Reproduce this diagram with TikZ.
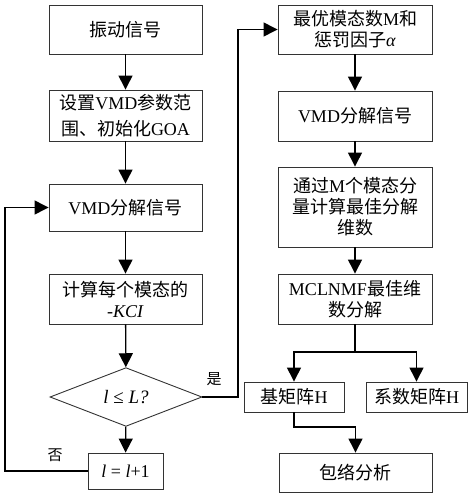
\documentclass[tikz,border=0pt]{standalone}
\usepackage{fontspec}
\setmainfont{Noto Sans CJK SC}
\newfontfamily\lat{Liberation Serif}
\newcommand{\la}[1]{{\lat #1}}
\usepackage{tikz}
\usetikzlibrary{arrows.meta}
\usetikzlibrary{shapes.geometric}
\usetikzlibrary{positioning}

\begin{document}
\begin{tikzpicture}[x=1pt, y=-1pt,
		kasten/.style={draw=black!80, line width=0.9pt, align=center, inner sep=2pt, font=\fontsize{18}{21}\selectfont},
		raute/.style={draw=black!80, line width=0.9pt, diamond, inner sep=0pt, font=\fontsize{19}{21}\selectfont},
		pfeil/.style={-{Triangle[width=14pt,length=14pt]}, line width=1.3pt},
		linie/.style={line width=1.3pt},
		marke/.style={font=\fontsize{15}{17}\selectfont}]
		\useasboundingbox (0,0) rectangle (474,498);

		% linke Spalte
		\path
		(125.5,29.5) node[kasten, minimum height=49pt, minimum width=153pt] (a) {振动信号}
		(125.5,115.5) node[kasten, minimum height=51pt, minimum width=153pt, font=\fontsize{18}{26}\selectfont] (b) {设置\la{VMD}参数范\\围、初始化\la{GOA}}
		(125.5,207.5) node[kasten, minimum height=47pt, minimum width=153pt] (c) {\la{VMD}分解信号}
		(125.5,299) node[kasten, minimum height=50pt, minimum width=153pt] (d) {计算每个模态的\\\la{\textit{-KCI}}}
		(126,397) node[raute, minimum height=50pt, minimum width=152pt] (e) {\la{\textit{l}~≤~\textit{L?}}}
		(125.5,471) node[kasten, minimum height=36pt, minimum width=75pt] (f) {\la{\textit{l} = \textit{l}+1}};

		% rechte Spalte
		\path
		(355,29.5) node[kasten, minimum height=49pt, minimum width=154pt] (g) {最优模态数\la{M}和\\惩罚因子\la{\textit{α}}}
		(355,116) node[kasten, minimum height=50pt, minimum width=154pt] (h) {\la{VMD}分解信号}
		(355,207) node[kasten, minimum height=80pt, minimum width=154pt] (i) {通过\la{M}个模态分\\量计算最佳分解\\维数}
		(355,299) node[kasten, minimum height=50pt, minimum width=154pt] (j) {\la{MCLNMF}最佳维\\数分解}
		(294,397) node[kasten, minimum height=30pt, minimum width=100pt] (k) {基矩阵\la{H}}
		(416.5,397) node[kasten, minimum height=30pt, minimum width=101pt] (l) {系数矩阵\la{H}}
		(355.5,472.5) node[kasten, minimum height=39pt, minimum width=153pt] (m) {包络分析};

		\coordinate (links) at (5,471);
		\coordinate (rechts) at (238,397);
		\coordinate (gabel) at (355,352);
		\coordinate (knick) at (294,427);

		\draw[pfeil] (a) -- (b);
		\draw[pfeil] (b) -- (c);
		\draw[pfeil] (c) -- (d);
		\draw[pfeil] (d) -- (e);
		\draw[pfeil] (e) -- (f);
		\draw[pfeil] (f.west) -- (links) |- (c.west);
		\draw[pfeil] (e.east) -- (rechts) |- (g.west);

		\draw[pfeil] (g) -- (h);
		\draw[pfeil] (h) -- (i);
		\draw[pfeil] (i) -- (j);
		\draw[linie] (j) -- (gabel);
		\draw[pfeil] (gabel) -| (k);
		\draw[pfeil] (gabel) -| (l);
		\draw[pfeil] (k) -- (knick) -| (m);

		\path (214,379) node[marke] (ja) {是};
		\path (55,455) node[marke] (nein) {否};
	\end{tikzpicture}
\end{document}
